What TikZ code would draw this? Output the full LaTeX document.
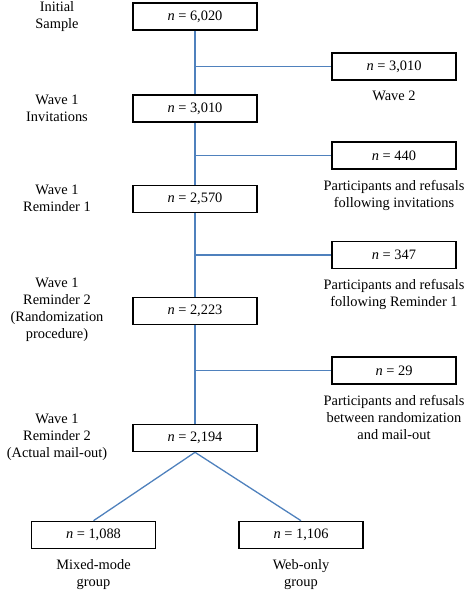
\documentclass[tikz,border=0pt]{standalone}
\usepackage{fontspec}
\setmainfont{Liberation Serif}
\usetikzlibrary{positioning}
\definecolor{linkblue}{RGB}{79,129,189}
\tikzset{
    count/.style = {rectangle,draw,line width=1.6pt,minimum width=124pt,minimum height=27pt,inner sep=0pt},
    stage/.style = {align=center,inner sep=0pt},
    link/.style = {draw=linkblue,line width=1.3pt}}

\begin{document}
\begin{tikzpicture}[x=1pt,y=-1pt,font=\fontsize{14.4}{17}\selectfont]
    \useasboundingbox (0,0) rectangle (474,602);
    \path (195,16.5) node[count] (N1) {\textit{n} = 6,020}
        + (-138,0) node[stage] (S1) {Initial\\Sample}
        + (199,50) node[count] (R1) {\textit{n} = 3,010}
        ++ (0,92) node[count] (N2) {\textit{n} = 3,010}
        + (-138,0) node[stage] (S2) {Wave 1\\Invitations}
        + (199,47) node[count] (R2) {\textit{n} = 440}
        ++ (0,90.5) node[count] (N3) {\textit{n} = 2,570}
        + (-138,-0.5) node[stage] (S3) {Wave 1\\Reminder 1}
        + (199,56) node[count] (R3) {\textit{n} = 347}
        ++ (0,112) node[count] (N4) {\textit{n} = 2,223}
        + (-138,-1) node[stage] (S4) {Wave 1\\Reminder 2\\(Randomization\\procedure)}
        + (199,59.5) node[count] (R4) {\textit{n} = 29}
        ++ (0,127) node[count] (N5) {\textit{n} = 2,194}
        + (-138,-1) node[stage] (S5) {Wave 1\\Reminder 2\\(Actual mail-out)}
        + (-101.5,97) node[count] (G1) {\textit{n} = 1,088}
        + (106,97) node[count] (G2) {\textit{n} = 1,106};
    \node[stage,below=10pt of R1] (W2) {Wave 2};
    \node[stage,below=10pt of R2] (P1) {Participants and refusals\\following invitations};
    \node[stage,below=10pt of R3] (P2) {Participants and refusals\\following Reminder 1};
    \node[stage,below=10pt of R4] (P3) {Participants and refusals\\between randomization\\and mail-out};
    \node[stage,below=10pt of G1] (M1) {Mixed-mode\\group};
    \node[stage,below=10pt of G2] (M2) {Web-only\\group};
    \draw[link] (N1) -- (N2) (N2) -- (N3) (N3) -- (N4) (N4) -- (N5);
    \draw[link] (N1 |- R1) -- (R1) (N2 |- R2) -- (R2) (N3 |- R3) -- (R3) (N4 |- R4) -- (R4);
    \draw[link] (N5.south) -- (G1.north) (N5.south) -- (G2.north);
\end{tikzpicture}
\end{document}
